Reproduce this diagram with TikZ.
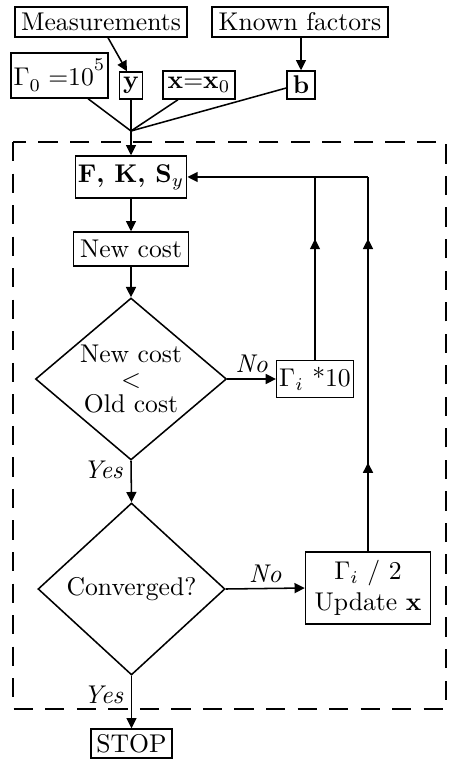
\documentclass[tikz,border=0pt]{standalone}
\usetikzlibrary{shapes.geometric,arrows.meta,calc,decorations.markings}
\def\pu{0.39pt}
\begin{document}
\begin{tikzpicture}[x=0.39pt,y=-0.39pt,line width=0.6pt,
  every node/.style={inner sep=1pt},
  box/.style={draw,line width=0.55pt},
  dia/.style={diamond,draw,line width=0.6pt,inner sep=0pt},
  arr/.style={-{Triangle[length=4pt,width=3.9pt]}},
  lbl/.style={font=\itshape},
  mk/.style={postaction={decorate,decoration={markings,mark=at position #1 with {\arrow{Triangle[length=4pt,width=3.9pt]}}}}},
  frame/.style={draw,line width=0.6pt,dash pattern=on 7.5pt off 4.8pt}]
\useasboundingbox (0,0) rectangle (474,773);
% inputs
\node[box,minimum width=172*\pu,minimum height=30*\pu] (meas) at (101,22) {Measurements};
\node[box,minimum width=176*\pu,minimum height=30*\pu] (known) at (300,22) {Known factors};
\node[box,minimum width=91*\pu,minimum height=45*\pu] (gam) at (59.5,75.5) {$\Gamma_{\raisebox{-1pt}{$\scriptstyle 0$}}\;{=}10^{\raisebox{2pt}{$\scriptstyle 5$}}$};
\node[box,minimum width=23*\pu,minimum height=27*\pu] (yb) at (131,85.5) {$\mathbf{y}$};
\node[box,minimum width=72*\pu,minimum height=28*\pu] (xb) at (199,85) {$\mathbf{x}{=}\mathbf{x}_0$};
\node[box,minimum width=28*\pu,minimum height=28*\pu] (bb) at (301,85) {$\mathbf{b}$};
\coordinate (J) at (131,131);
% frame
\draw[frame] (13,142) rectangle (446,709);
% loop
\node[box,minimum width=105*\pu,minimum height=42*\pu] (fks) at (131,177) {\textbf{F, K, S}$_y$};
\node[box,minimum width=115*\pu,minimum height=34*\pu] (newc) at (131,249) {New cost};
\node[dia,minimum width=191*\pu,minimum height=162*\pu] (d1) at (131,379) {};
\node[align=center] (d1txt) at (d1.center) {New cost\\[-2.3pt]$<$\\[-2.3pt]Old cost};
\node[box,minimum width=76*\pu,minimum height=37*\pu] (g10) at (315,379) {$\Gamma_i$ *10};
\node[dia,minimum width=187*\pu,minimum height=172*\pu] (d2) at (131.5,589) {};
\node (d2txt) at (d2.center) {Converged?};
\node[box,minimum width=125*\pu,minimum height=72*\pu,align=center] (upd) at (368,588) {$\Gamma_i$ / 2\\Update $\mathbf{x}$};
\node[box,minimum width=81*\pu,minimum height=29*\pu] (stop) at (131.5,743.5) {STOP};
% connectors
\draw[arr] ($(meas.south)+(7,0)$) -- ($(yb.north)+(-4,0)$);
\draw[arr] (bb.north |- known.south) -- (bb.north);
\draw ($(gam.south)+(28.5,0)$) -- (J);
\draw (yb.south) -- (J);
\draw ($(xb.south)+(-21,0)$) -- (J);
\draw ($(bb.west)+(0,3)$) -- (J);
\draw[arr] (J) -- (fks.north);
\draw[arr] (fks.south) -- (newc.north);
\draw[arr] (newc.south) -- (d1.north);
\draw[arr] (d1.east) -- node[above,lbl,yshift=1pt] {No} (g10.west);
\draw[arr] (d1.south) -- node[pos=0.23,left,lbl,inner sep=3pt] {Yes} (d2.north);
\draw[arr] (d2.east) -- node[above,lbl,yshift=1pt] {No} (upd.west);
\draw[arr] (d2.south) -- node[pos=0.37,left,lbl,inner sep=3pt] {Yes} (stop.north);
% feedback
\draw[mk=0.661] (g10.north) -- (g10.north |- fks.east);
\draw[mk=0.237,mk=0.835] (upd.north) -- (upd.north |- fks.east);
\draw[arr] (upd.north |- fks.east) -- (fks.east);
\end{tikzpicture}
\end{document}
